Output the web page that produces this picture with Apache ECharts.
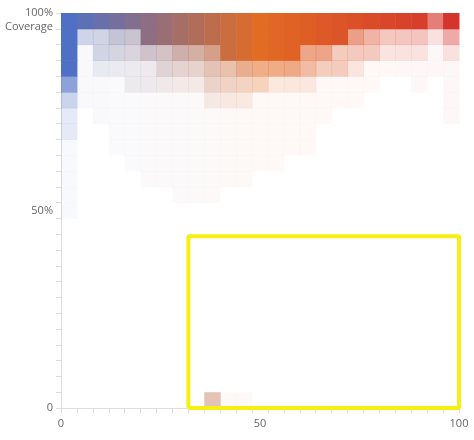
<!DOCTYPE html>
<html><head><meta charset="utf-8">
<script src="https://cdn.jsdelivr.net/npm/echarts@6/dist/echarts.min.js"></script>
<style>html,body{margin:0;padding:0;background:#fff}#c{width:474px;height:440px}</style>
</head><body><div id="c"></div>
<script>
// intensity rows from top (96-100%) to bottom (0-4%), digits 0-9, 25 columns of width 4
const densityRows = [
  "9999999999999999999999969",
  "9334499999999999995433324",
  "9133344556999995533322212",
  "9122223334455554332111111",
  "6111222223333222111100101",
  "3111111112221111111000001",
  "2011111111111111100000001",
  "2001111111111111000000000",
  "1001111111111111000000000",
  "1000111111111100000000000",
  "1000011111110000000000000",
  "1000000111000000000000000",
  "1000000000000000000000000",
  "0000000000000000000000000",
  "0000000000000000000000000",
  "0000000000000000000000000",
  "0000000000000000000000000",
  "0000000000000000000000000",
  "0000000000000000000000000",
  "0000000000000000000000000",
  "0000000000000000000000000",
  "0000000000000000000000000",
  "0000000000000000000000000",
  "0000000000000000000000000",
  "0000000004110000000000000"
];
const cellSize = 4;
const highlightBox = [[32, 0], [100, 0], [100, 43.5], [32, 43.5], [32, 0]];
const xLabels = [0, 50, 100];
const yLabels = [0, 50, 100];
const alphaMap = [0, 0.04, 0.15, 0.3, 0.42, 0.55, 0.65, 0.75, 0.87, 1];
const stops = [[0, [74, 112, 204]], [0.5, [226, 108, 36]], [1, [212, 50, 45]]];
function hue(t) {
  for (let i = 1; i < stops.length; i++) {
    if (t <= stops[i][0]) {
      const a = stops[i - 1], b = stops[i], f = (t - a[0]) / (b[0] - a[0]);
      return a[1].map((v, k) => Math.round(v + (b[1][k] - v) * f));
    }
  }
  return stops[stops.length - 1][1];
}
const cells = [];
densityRows.forEach((row, r) => {
  const yi = densityRows.length - 1 - r;
  row.padEnd(25, '0').split('').forEach((ch, c) => {
    const d = +ch;
    if (d > 0) cells.push([c * cellSize, yi * cellSize, d]);
  });
});
const ticks = Array.from({length: 26}, (_, i) => i * 4);
const chart = echarts.init(document.getElementById('c'));
chart.setOption({
  animation: false,
  grid: {left: 61, right: 15, top: 13, bottom: 32},
  xAxis: {type: 'value', min: 0, max: 100,
    axisLine: {show: true, lineStyle: {color: '#ddd'}},
    axisTick: {show: true, customValues: ticks, length: 5, lineStyle: {color: '#ddd'}},
    axisLabel: {customValues: xLabels, color: '#666', fontSize: 11, fontFamily: 'Open Sans', margin: 10},
    splitLine: {show: false}},
  yAxis: {type: 'value', min: 0, max: 100,
    axisLine: {show: true, lineStyle: {color: '#ddd'}},
    axisTick: {show: true, customValues: ticks, length: 5, lineStyle: {color: '#ddd'}},
    axisLabel: {customValues: yLabels, color: '#666', fontSize: 11, fontFamily: 'Open Sans',
      formatter: v => v === 0 ? '0' : v + '%', margin: 8},
    splitLine: {show: false}},
  graphic: [{type: 'text', right: 474 - 53, top: 21,
    style: {text: 'Coverage', fill: '#666', font: '11px "Open Sans"', textAlign: 'right'}}],
  series: [{
    type: 'custom', data: cells,
    renderItem: (params, api) => {
      const x = api.value(0), y = api.value(1), d = api.value(2);
      const p0 = api.coord([x, y + cellSize]), p1 = api.coord([x + cellSize, y]);
      const h = hue((x + cellSize / 2) / 100);
      return {type: 'rect', shape: {x: p0[0], y: p0[1], width: p1[0] - p0[0] + 0.5, height: p1[1] - p0[1] + 0.5},
        style: {fill: `rgba(${h[0]},${h[1]},${h[2]},${alphaMap[d]})`}};
    }
  }, {
    type: 'line', data: highlightBox, symbol: 'none', z: 5,
    lineStyle: {color: '#f5ef12', width: 4}
  }]
});
</script></body></html>
